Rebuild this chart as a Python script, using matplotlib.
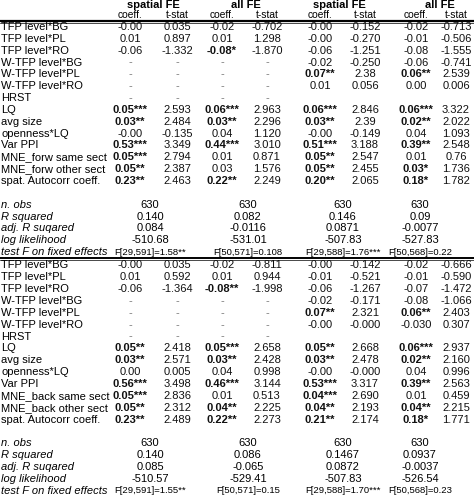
import matplotlib.pyplot as plt

plt.rcParams['font.family'] = ['Liberation Sans', 'DejaVu Sans']

labels_top = ["TFP level*BG", "TFP level*PL", "TFP level*RO", "W-TFP level*BG", "W-TFP level*PL",
              "W-TFP level*RO", "HRST", "LQ", "avg size", "openness*LQ", "Var PPI",
              "MNE_forw same sect", "MNE_forw other sect", "spat. Autocorr coeff."]
labels_bot = [l.replace("MNE_forw", "MNE_back") for l in labels_top]

# each row: coeff, t, coeff, t, coeff, t, coeff, t
top_rows = [
    ["-0.00", "0.035", "-0.02", "-0.702", "-0.00", "-0.152", "-0.02", "-0.713"],
    ["0.01", "0.897", "0.01", "1.298", "-0.00", "-0.270", "-0.01", "-0.506"],
    ["-0.06", "-1.332", "-0.08*", "-1.870", "-0.06", "-1.251", "-0.08", "-1.555"],
    ["-", "-", "-", "-", "-0.02", "-0.250", "-0.06", "-0.741"],
    ["-", "-", "-", "-", "0.07**", "2.38", "0.06**", "2.539"],
    ["-", "-", "-", "-", "0.01", "0.056", "0.00", "0.006"],
    ["-", "-", "-", "-", "", "", "", ""],
    ["0.05***", "2.593", "0.06***", "2.963", "0.06***", "2.846", "0.06***", "3.322"],
    ["0.03**", "2.484", "0.03**", "2.296", "0.03**", "2.39", "0.02**", "2.022"],
    ["-0.00", "-0.135", "0.04", "1.120", "-0.00", "-0.149", "0.04", "1.093"],
    ["0.53***", "3.349", "0.44***", "3.010", "0.51***", "3.188", "0.39**", "2.548"],
    ["0.05***", "2.794", "0.01", "0.871", "0.05**", "2.547", "0.01", "0.76"],
    ["0.05**", "2.387", "0.03", "1.576", "0.05**", "2.455", "0.03*", "1.736"],
    ["0.23**", "2.463", "0.22**", "2.249", "0.20**", "2.065", "0.18*", "1.782"],
]
bot_rows = [
    ["-0.00", "0.035", "-0.02", "-0.811", "-0.00", "-0.142", "-0.02", "-0.666"],
    ["0.01", "0.592", "0.01", "0.944", "-0.01", "-0.521", "-0.01", "-0.590"],
    ["-0.06", "-1.364", "-0.08**", "-1.998", "-0.06", "-1.267", "-0.07", "-1.472"],
    ["-", "-", "-", "-", "-0.02", "-0.171", "-0.08", "-1.066"],
    ["-", "-", "-", "-", "0.07**", "2.321", "0.06**", "2.403"],
    ["-", "-", "-", "-", "-0.00", "-0.000", "-0.030", "0.307"],
    ["-", "-", "-", "-", "", "", "", ""],
    ["0.05**", "2.418", "0.05***", "2.658", "0.05**", "2.668", "0.06***", "2.937"],
    ["0.03**", "2.571", "0.03**", "2.428", "0.03**", "2.478", "0.02**", "2.160"],
    ["0.00", "0.005", "0.04", "0.998", "-0.00", "-0.000", "0.04", "0.996"],
    ["0.56***", "3.498", "0.46***", "3.144", "0.53***", "3.317", "0.39**", "2.563"],
    ["0.05***", "2.836", "0.01", "0.513", "0.04***", "2.690", "0.01", "0.459"],
    ["0.05**", "2.312", "0.04**", "2.225", "0.04**", "2.193", "0.04**", "2.215"],
    ["0.23**", "2.489", "0.22**", "2.273", "0.21**", "2.174", "0.18*", "1.771"],
]

stat_labels = ["n. obs", "R squared", "adj. R suqared", "log likelihood", "test F on fixed effects"]
top_stats = [
    ["630", "630", "630", "630"],
    ["0.140", "0.082", "0.146", "0.09"],
    ["0.084", "-0.0116", "0.0871", "-0.0077"],
    ["-510.68", "-531.01", "-507.83", "-527.83"],
    ["F[29,591]=1.58**", "F[50,571]=0.108", "F[29,588]=1.76***", "F[50,568]=0.22"],
]
bot_stats = [
    ["630", "630", "630", "630"],
    ["0.140", "0.086", "0.1467", "0.0937"],
    ["0.085", "-0.065", "0.0872", "-0.0037"],
    ["-510.57", "-529.41", "-507.83", "-526.54"],
    ["F[29,591]=1.55**", "F[50,571]=0.15", "F[29,588]=1.70***", "F[50,568]=0.23"],
]

groups = ["spatial FE", "all FE", "spatial FE", "all FE"]
group_x = [153, 246, 339, 440]
col_x = [130, 177, 222, 267, 320, 365, 416, 456]
stat_x = [150, 248, 343, 420]

fig = plt.figure(figsize=(4.74, 4.96), dpi=100)
ax = fig.add_axes([0, 0, 1, 1])
ax.set_xlim(0, 474)
ax.set_ylim(496, 0)
ax.axis('off')

fs = 8
for g, x in zip(groups, group_x):
    ax.text(x, 5, g, ha='center', va='center', fontsize=fs, fontweight='bold')
for i, x in enumerate(col_x):
    ax.text(x, 15.5, "coeff." if i % 2 == 0 else "t-stat", ha='center', va='center', fontsize=fs - 0.6)
ax.plot([0, 474], [21, 21], color='black', lw=1.6)
ax.plot([0, 474], [23, 23], color='black', lw=0.5)


def block(y0, labels, rows, stats, step=11.85):
    for r, (lab, vals) in enumerate(zip(labels, rows)):
        y = y0 + r * step
        ax.text(1, y, lab, ha='left', va='center', fontsize=fs)
        for i, v in enumerate(vals):
            bold = '*' in v
            ax.text(col_x[i], y, v, ha='center', va='center', fontsize=fs,
                    fontweight='bold' if bold else 'normal', color='#111111' if v != '-' else '#777777')
    ys = y0 + (len(rows) + 1) * step
    for r, (lab, vals) in enumerate(zip(stat_labels, stats)):
        y = ys + r * step
        ax.text(1, y, lab, ha='left', va='center', fontsize=fs, style='italic')
        for x, v in zip(stat_x, vals):
            ax.text(x, y, v, ha='center', va='center', fontsize=fs - (1.2 if v.startswith('F') else 0))


block(27, labels_top, top_rows, top_stats)
ax.plot([0, 474], [257.5, 257.5], color='black', lw=1.4)
ax.plot([0, 474], [259.5, 259.5], color='black', lw=0.5)
block(265.5, labels_bot, bot_rows, bot_stats)

fig.savefig('out.png', dpi=100)
